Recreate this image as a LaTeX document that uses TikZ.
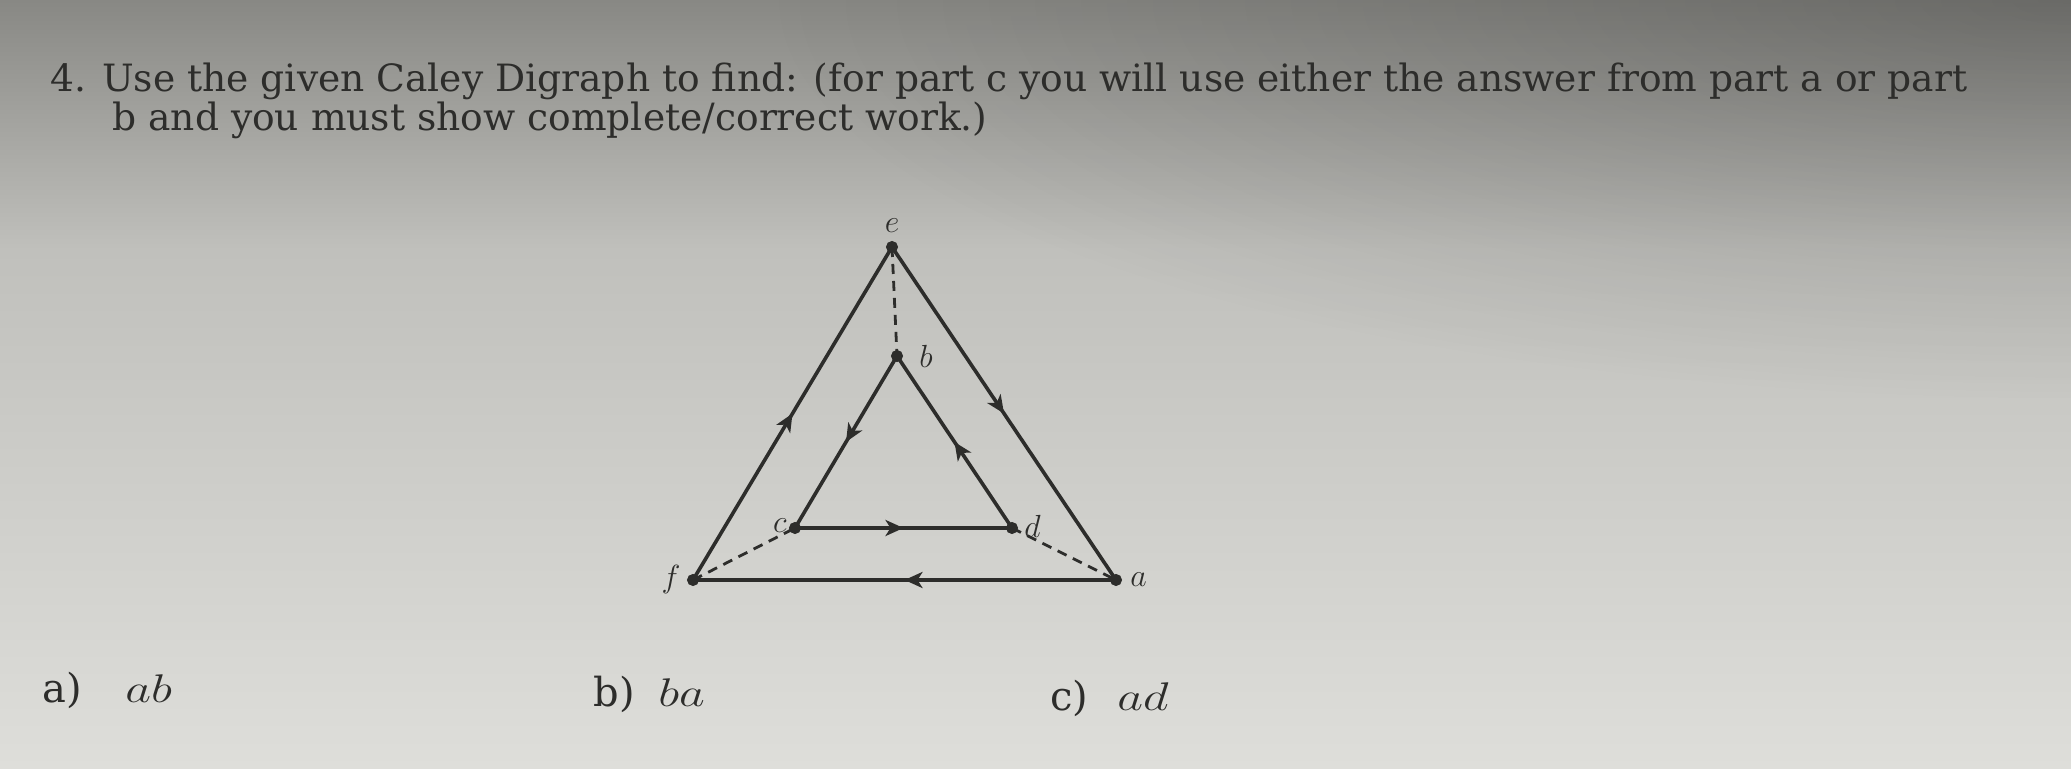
\RequirePackage{fix-cm}
\documentclass[tikz,border=0pt]{standalone}
\usepackage{graphicx}
\usepackage{fontspec}
\setmainfont{DejaVu Serif}
\usetikzlibrary{arrows.meta, decorations.markings, fadings}

\definecolor{papertop}{RGB}{136,136,132}
\definecolor{papermid}{RGB}{192,192,188}
\definecolor{paperbot}{RGB}{222,222,218}
\definecolor{ink}{RGB}{45,45,43}

\tikzfading[name=softcorner, inner color=transparent!0, outer color=transparent!100]

\begin{document}
\begin{tikzpicture}[x=0.5pt, y=-0.5pt,
  edgeline/.style={line width=1.8pt, ink},
  genline/.style={line width=1.4pt, ink, dash pattern=on 5pt off 3.5pt},
  midarrow/.style={postaction={decorate}, decoration={markings,
    mark=at position 0.5 with {\arrow{Stealth[length=9pt, width=8pt, inset=2.5pt]}}}},
  vlabel/.style={font=\fontsize{16}{18}\selectfont, text=ink, inner sep=1pt},
  qtext/.style={font=\fontsize{18.8}{23}\selectfont, text=ink, anchor=base west, inner sep=0pt},
  parttext/.style={font=\fontsize{20}{24}\selectfont, text=ink, anchor=base west, inner sep=0pt}]

  \useasboundingbox (0,0) rectangle (2071,769);
  \shade[top color=papertop, bottom color=papermid] (0,0) rectangle (2071,250);
  \shade[top color=papermid, bottom color=paperbot] (0,250) rectangle (2071,769);
  \fill[black, opacity=0.22, path fading=softcorner] (2071,0) ellipse [x radius=1300, y radius=400];

  % question
  \node[qtext] (line1) at (50,92) {4. Use the given Caley Digraph to find: (for part c you will use either the answer from part a or part};
  \node[qtext] (line2) at (112,131) {b and you must show complete/correct work.)};

  % Cayley digraph
  \coordinate (e) at (892,247);
  \coordinate (b) at (897,356);
  \coordinate (c) at (795,528);
  \coordinate (d) at (1012,528);
  \coordinate (f) at (693,580);
  \coordinate (a) at (1116,580);

  \draw[genline] (e) -- (b);
  \draw[genline] (f) -- (c);
  \draw[genline] (d) -- (a);

  \draw[edgeline, midarrow] (f) -- (e);
  \draw[edgeline, midarrow] (e) -- (a);
  \draw[edgeline, midarrow] (a) -- (f);
  \draw[edgeline, midarrow] (b) -- (c);
  \draw[edgeline, midarrow] (c) -- (d);
  \draw[edgeline, midarrow] (d) -- (b);

  \foreach \v in {e,b,c,d,f,a}
    \filldraw[ink] (\v) circle (2.8pt);

  \node[vlabel, above=6pt] (le) at (e) {\(e\)};
  \node[vlabel, right=10pt] (lb) at (b) {\(b\)};
  \node[vlabel, left=3pt, yshift=1pt] (lc) at (c) {\(c\)};
  \node[vlabel, right=5pt, yshift=1pt] (ld) at (d) {\(d\)};
  \node[vlabel, left=5pt] (lf) at (f) {\(f\)};
  \node[vlabel, right=6pt] (la) at (a) {\(a\)};

  % parts
  \node[parttext] (pa) at (42,702) {a)};
  \node[parttext] (qa) at (125,702) {\scalebox{1.25}[1]{\(ab\)}};
  \node[parttext] (pb) at (593,706) {b)};
  \node[parttext] (qb) at (658,706) {\scalebox{1.25}[1]{\(ba\)}};
  \node[parttext] (pc) at (1050,710) {c)};
  \node[parttext] (qc) at (1117,710) {\scalebox{1.25}[1]{\(ad\)}};

\end{tikzpicture}
\end{document}
